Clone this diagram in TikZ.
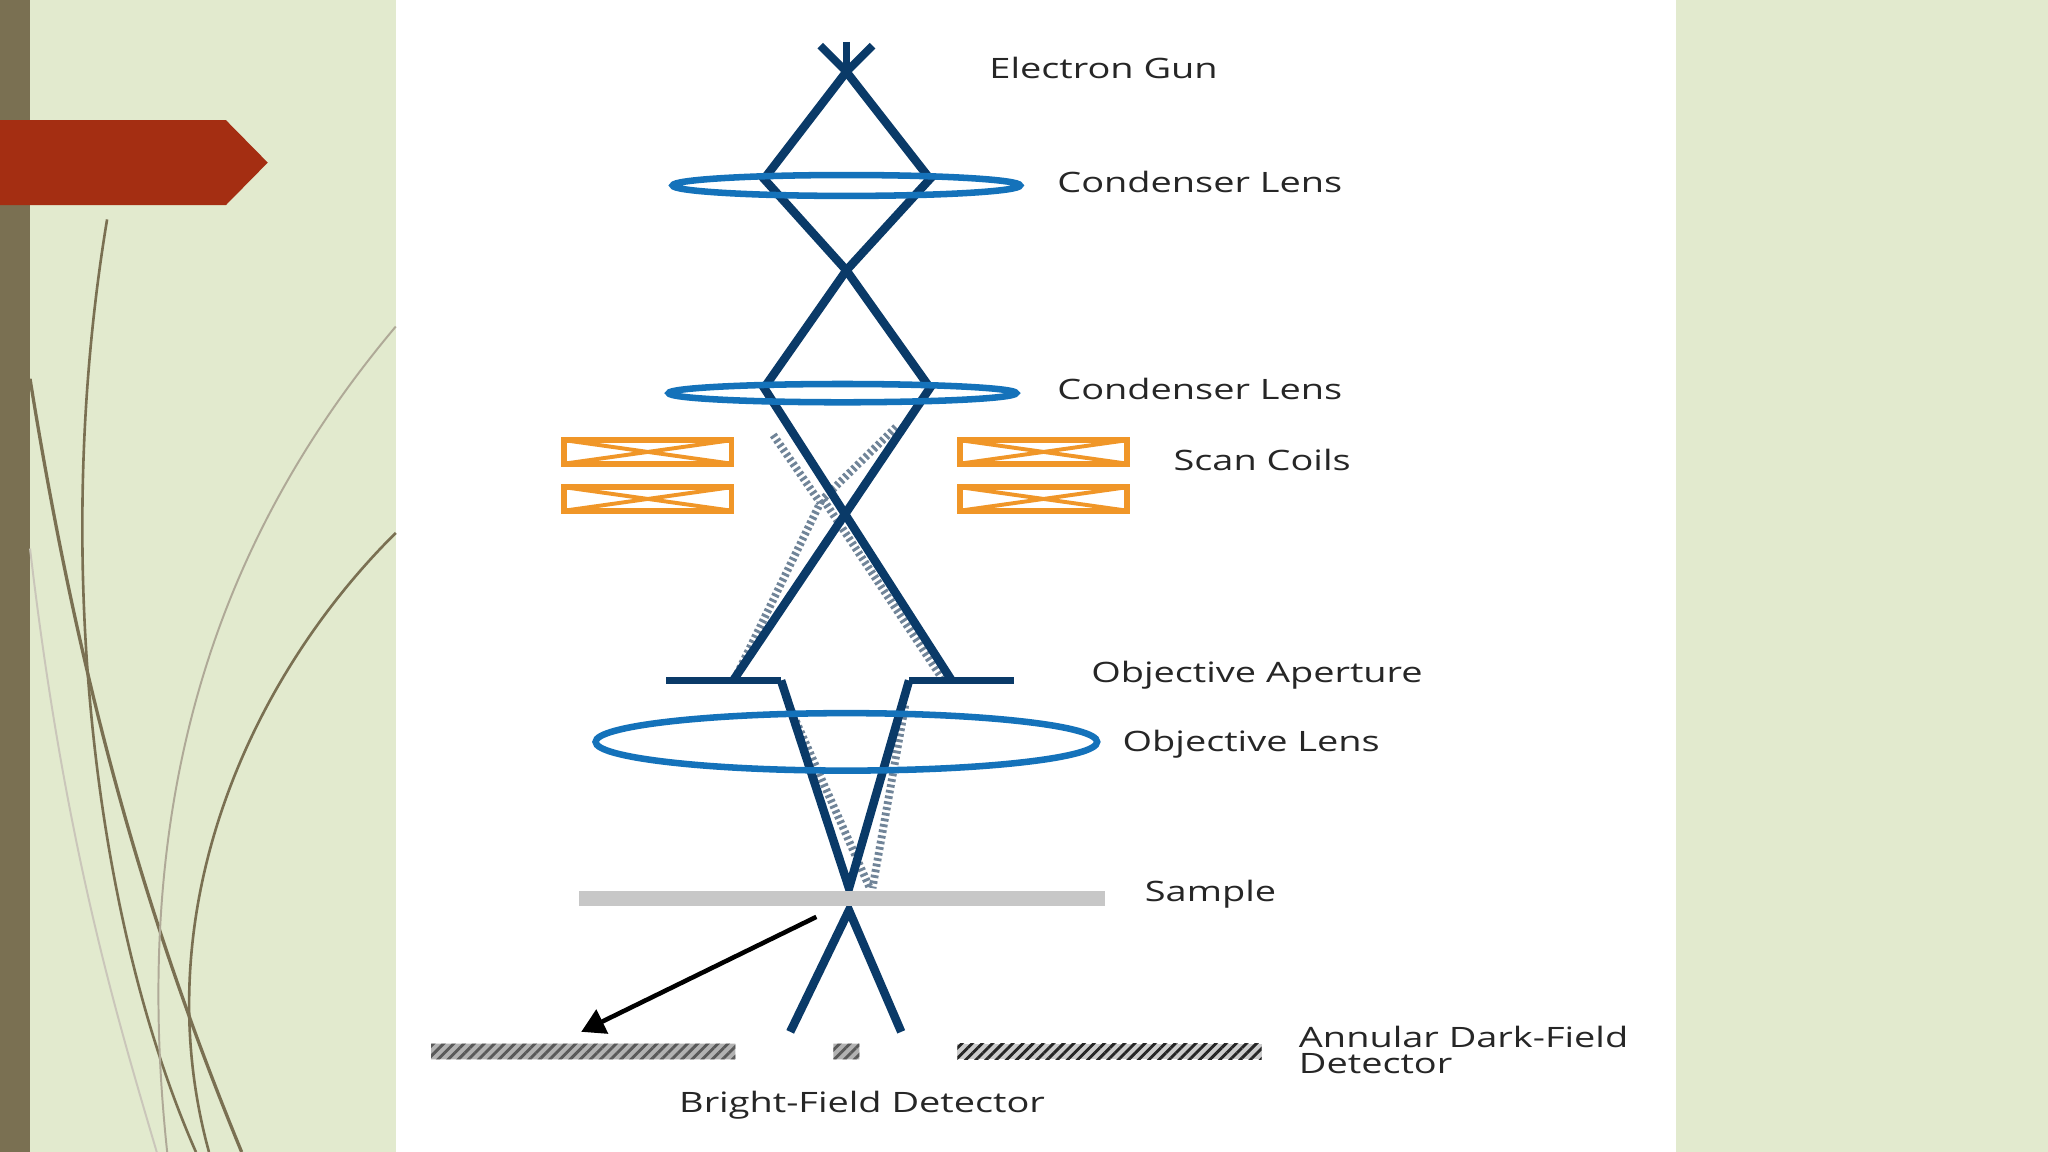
\documentclass[tikz,border=0pt]{standalone}
\usepackage{fontspec}
\setmainfont{Open Sans}[FakeStretch=1.35]
\usetikzlibrary{arrows.meta,patterns.meta,positioning}
\definecolor{bggreen}{RGB}{226,234,206}
\definecolor{olive}{RGB}{122,112,82}
\definecolor{tabred}{RGB}{164,46,18}
\definecolor{beam}{RGB}{10,58,104}
\definecolor{lens}{RGB}{20,114,186}
\definecolor{coil}{RGB}{240,150,40}
\definecolor{scanned}{RGB}{112,132,152}
\tikzset{
  ray/.style={draw=beam, line width=6.5pt},
  scanray/.style={draw=scanned, line width=6pt, dash pattern=on 2.2pt off 2.2pt},
  lensring/.style={draw=lens, line width=5pt},
  coilbox/.style={draw=coil, line width=4.5pt, fill=white},
  label/.style={anchor=west, font=\fontsize{21.5}{25}\selectfont, text=black!85},
  hatch/.style={pattern={Lines[angle=45,distance=5.5pt,line width=2.2pt]}, pattern color=#1}
}
\begin{document}
\begin{tikzpicture}[x=1pt, y=-1pt]
\useasboundingbox (0,0) rectangle (1568,882);
% slide background
\fill[bggreen] (0,0) rectangle (1568,882);
\fill[olive] (0,0) rectangle (23,882);
\fill[white] (303,0) rectangle (1283,882);
\fill[tabred] (0,92) -- (173,92) -- (205,124.5) -- (173,157) -- (0,157) -- cycle;
\draw[olive, line width=2pt] (82,168) .. controls (40,420) and (70,700) .. (150,882);
\draw[olive, line width=2.5pt] (23,290) .. controls (60,520) and (110,700) .. (185,882);
\draw[olive!60, line width=1.5pt] (303,250) .. controls (160,420) and (100,620) .. (128,882);
\draw[olive, line width=2pt] (303,408) .. controls (190,520) and (110,700) .. (160,882);
\draw[olive!40, line width=1.5pt] (23,420) .. controls (50,650) and (90,780) .. (120,882);

% key points of the column
\coordinate (gun) at (648,55);
\coordinate (c1l) at (585,137);
\coordinate (c1r) at (712,137);
\coordinate (x1) at (648,207);
\coordinate (c2l) at (585,297);
\coordinate (c2r) at (712,297);
\coordinate (al) at (562,520);
\coordinate (ar) at (728,520);
\coordinate (ail) at (598,521);
\coordinate (air) at (696,521);
\coordinate (focus) at (650,680);
\coordinate (below) at (650,697);

% gun
\draw[ray, line width=6pt] (628,35) -- (gun) -- (668,35);
\draw[ray, line width=5pt] (648,32) -- (gun);

% scanned rays
\draw[scanray] (592,333) -- (628,385) -- (563,519);
\draw[scanray] (686,327) -- (630,382) -- (721,519);
\draw[scanray] (604,540) -- (666,680);
\draw[scanray] (693,540) -- (668,680);

% main rays
\draw[ray] (gun) -- (c1l) -- (x1) -- (c2l) -- (ar);
\draw[ray] (gun) -- (c1r) -- (x1) -- (c2r) -- (al);
\draw[ray, line width=5pt] (510,521) -- (ail);
\draw[ray, line width=5pt] (air) -- (776,521);
\draw[ray] (ail) -- (focus) -- (air);
\draw[ray] (605,790) -- (below) -- (690,790);

% lenses
\draw[lensring] (648,142) ellipse (133 and 8);
\draw[lensring] (645,301) ellipse (133 and 7);
\draw[lensring] (648,568) ellipse (192 and 22);

% scan coils
\foreach \x in {432,735}{
  \foreach \y in {337,373}{
    \draw[coilbox] (\x,\y) rectangle ++(128,18);
    \draw[coil, line width=3pt] (\x,\y) -- ++(128,18) (\x,\y+18) -- ++(128,-18);
  }
}

% sample and detectors
\fill[black!22] (443,682) rectangle (846,694);
\fill[black!30] (330,799) rectangle (563,811) (638,799) rectangle (658,811);
\fill[black!20] (733,799) rectangle (966,811);
\fill[hatch=black!65] (330,799) rectangle (563,811) (638,799) rectangle (658,811);
\fill[hatch=black!85] (733,799) rectangle (966,811);
\coordinate (scat) at (625,702);
\coordinate (scatend) at (445,790);
\draw[line width=3.5pt, -{Triangle[length=18pt,width=20pt]}] (scat) -- (scatend);

% labels
\node[label] (lgun) at (754,52) {Electron Gun};
\node[label] (lcl1) at (806,139) {Condenser Lens};
\node[label] (lcl2) at (806,298) {Condenser Lens};
\node[label] (lsc) at (895,352) {Scan Coils};
\node[label] (lap) at (832,517) {Objective Aperture};
\node[label] (lol) at (856,570) {Objective Lens};
\node[label] (lsa) at (873,685) {Sample};
\node[label, anchor=north west, align=left, font=\fontsize{21.5}{20}\selectfont] (ladf) at (991,782) {Annular Dark-Field\\Detector};
\node[label, anchor=center] (lbf) at (660,846) {Bright-Field Detector};
\end{tikzpicture}
\end{document}
